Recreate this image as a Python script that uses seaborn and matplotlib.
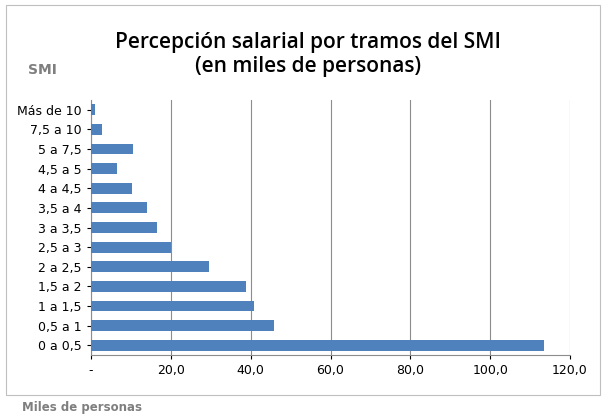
import matplotlib.pyplot as plt
import pandas as pd
import seaborn as sns

categories = ["Más de 10", "7,5 a 10", "5 a 7,5", "4,5 a 5", "4 a 4,5", "3,5 a 4",
              "3 a 3,5", "2,5 a 3", "2 a 2,5", "1,5 a 2", "1 a 1,5", "0,5 a 1", "0 a 0,5"]
values = [1.0, 2.8, 10.5, 6.5, 10.3, 14.0, 16.5, 20.0, 29.6, 38.8, 40.8, 45.9, 113.5]
xticks = [0, 20, 40, 60, 80, 100, 120]
xtick_labels = ["-", "20,0", "40,0", "60,0", "80,0", "100,0", "120,0"]

df = pd.DataFrame({"tramo": categories, "miles": values})

fig = plt.figure(figsize=(6.06, 4.18), dpi=100)
ax = fig.add_axes([91 / 606, 1 - 355 / 418, 479 / 606, 255 / 418])

sns.barplot(data=df, x="miles", y="tramo", color="#4F81BD", saturation=1,
            width=0.55, ax=ax, zorder=3)

ax.set_xlim(0, 120)
ax.set_xticks(xticks)
ax.set_xticklabels(xtick_labels, fontsize=9)
ax.tick_params(axis="y", labelsize=9, length=3)
ax.tick_params(axis="x", length=3)
ax.set_xlabel("")
ax.set_ylabel("")
ax.grid(axis="x", color="#8c8c8c", linewidth=0.8, zorder=0)
for s in ["top", "right"]:
    ax.spines[s].set_visible(False)
ax.spines["left"].set_color("#8c8c8c")
ax.spines["bottom"].set_color("#8c8c8c")

fig.text(0.508, 0.87, "Percepción salarial por tramos del SMI\n(en miles de personas)",
         ha="center", va="center", fontsize=15, fontweight="semibold",
         family="Open Sans", linespacing=1.15)
fig.text(28 / 606, 1 - 70 / 418, "SMI", fontsize=10, fontweight="bold",
         color="#7f7f7f", va="center")
fig.text(22 / 606, 1 - 407 / 418, "Miles de personas", fontsize=8.5,
         fontweight="bold", color="#7f7f7f", va="center")

fig.add_artist(plt.Rectangle((6 / 606, 1 - 395 / 418), 594 / 606, 390 / 418,
                             transform=fig.transFigure, fill=False,
                             edgecolor="#bfbfbf", linewidth=0.8))

fig.savefig("out.png", dpi=100)
